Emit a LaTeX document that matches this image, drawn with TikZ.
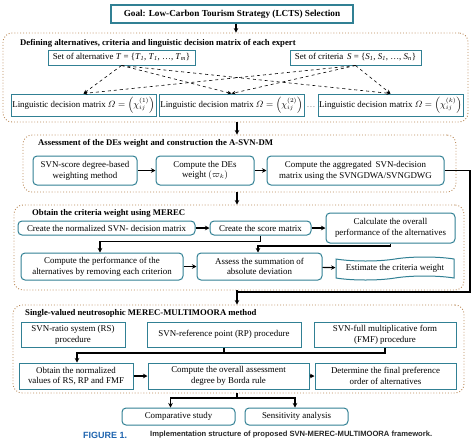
\documentclass[tikz,border=0pt]{standalone}
\usepackage{fontspec,amsmath}
\setmainfont{Liberation Serif}
\newfontfamily\capfont{Liberation Sans}
\usetikzlibrary{arrows.meta,shapes.symbols}
\definecolor{boxteal}{RGB}{49,128,148}
\definecolor{groupbrown}{RGB}{185,135,85}
\definecolor{capblue}{RGB}{30,100,175}
\newcommand{\fs}{\fontsize{8.9}{10.8}\selectfont}
\newcommand{\fst}{\fontsize{8.7}{10}\selectfont}
\newcommand{\elem}[2]{\textit{#1}\textsubscript{\textit{#2}}}
\hyphenpenalty=10000
\tikzset{
    box/.style={draw=boxteal, line width=1pt, align=center, inner sep=1pt, font=\fs},
    rbox/.style={box, rounded corners=4pt},
    group/.style={draw=groupbrown, dotted, line width=0.9pt, rounded corners=9pt},
    grouptitle/.style={font=\bfseries\fst, anchor=west, inner sep=0pt},
    conn/.style={line width=1.1pt, -{Stealth[length=4.5pt,width=4.5pt]}},
    wire/.style={line width=1.1pt},
    dasharrow/.style={dashed, line width=0.6pt, -{Stealth[length=4pt,width=3.5pt]}}
}
\begin{document}
\begin{tikzpicture}[x=1pt,y=-1pt]
                \useasboundingbox (0,0) rectangle (474,440);
                \node[box, line width=1.3pt, minimum width=242pt, minimum height=18pt, font=\bfseries\fontsize{9.2}{10}\selectfont] (goal) at (232,14) {Goal: Low-Carbon Tourism Strategy (LCTS) Selection};
                \node[group, minimum width=465pt, minimum height=89pt] (g1) at (235.5,77.5) {};
                \node[group, minimum width=433pt, minimum height=57pt] (g2) at (239.5,163.5) {};
                \node[group, minimum width=450pt, minimum height=85pt] (g3) at (239,247.5) {};
                \node[group, minimum width=451pt, minimum height=88pt] (g4) at (238.5,349) {};
                \node[grouptitle] (t1) at (20,43) {Defining alternatives, criteria and linguistic decision matrix of each expert};
                \node[grouptitle] (t2) at (38,143) {Assessment of the DEs weight and construction the A-SVN-DM};
                \node[grouptitle] (t3) at (32,213) {Obtain the criteria weight using MEREC};
                \node[grouptitle] (t4) at (25,313) {Single-valued neutrosophic MEREC-MULTIMOORA method};
                % alternatives, criteria and the experts' matrices
                \node[box, minimum width=147pt, minimum height=15pt] (alt) at (121.5,57.5) {Set of alternative \textit{T} = \{\elem{T}{1}, \elem{T}{1}, \dots, \elem{T}{m}\}};
                \node[box, minimum width=131pt, minimum height=15pt] (crit) at (355.5,57.5) {Set of criteria\, \textit{S} = \{\elem{S}{1}, \elem{S}{1}, \dots, \elem{S}{n}\}};
                \node[box, minimum width=145pt, minimum height=22pt] (lin1) at (83.5,105) {Linguistic decision matrix $\varOmega=\left(\chi_{ij}^{(1)}\right)$};
                \node[box, minimum width=145pt, minimum height=22pt] (lin2) at (231.5,105) {Linguistic decision matrix $\varOmega=\left(\chi_{ij}^{(2)}\right)$};
                \node[box, minimum width=145pt, minimum height=22pt] (lin3) at (390.5,105) {Linguistic decision matrix $\varOmega=\left(\chi_{ij}^{(k)}\right)$};
                \node[font=\fs, text=gray, inner sep=0pt] (dots) at (311,107) {\dots};
                \foreach \s in {alt,crit}
                    \foreach \t in {lin1,lin2,lin3}
                        \draw[dasharrow] (\s.south) -- (\t.north);
                % weights of the experts
                \node[rbox, minimum width=104pt, minimum height=29pt] (sco) at (85,170.5) {SVN-score degree-based\\weighting method};
                \node[rbox, minimum width=98pt, minimum height=29pt] (dew) at (205,170.5) {Compute the DEs\\weight $(\varpi_k)$};
                \node[rbox, minimum width=177pt, minimum height=29pt] (agg) at (355.5,170.5) {Compute the aggregated\, SVN-decision\\matrix using the SVNGDWA/SVNGDWG};
                \draw[conn] (sco) -- (dew);
                \draw[conn] (dew) -- (agg);
                % MEREC
                \node[rbox, minimum width=177pt, minimum height=14pt] (norm) at (106.5,228) {Create the normalized SVN- decision matrix};
                \node[rbox, minimum width=101pt, minimum height=14pt] (score) at (260.5,228) {Create the score matrix};
                \node[rbox, minimum width=129pt, minimum height=30pt] (overall) at (390.5,228) {Calculate the overall\\performance of the alternatives};
                \node[rbox, minimum width=162pt, minimum height=27pt] (remove) at (102,266.5) {Compute the performance of the\\alternatives by removing each criterion};
                \node[rbox, minimum width=125pt, minimum height=27pt] (absdev) at (259.5,266.5) {Assess the summation of\\absolute deviation};
                \node[box, tape, tape bend height=4pt, minimum width=118pt, minimum height=23pt] (crw) at (395,268.5) {Estimate the criteria weight};
                \draw[conn] (norm) -- (score);
                \draw[conn] (score) -- (overall);
                \draw[conn] (score.south) -- ++(0,6) -| ([xshift=-2pt]remove.north);
                \draw[conn] (overall.south) -- ++(0,2.5) -| ([xshift=-1.5pt]absdev.north);
                \draw[conn] (remove) -- (absdev);
                \draw[conn] (absdev) -- (crw);
                % MULTIMOORA
                \node[box, minimum width=104pt, minimum height=25pt] (rs) at (73,334.5) {SVN-ratio system (RS)\\procedure};
                \node[box, minimum width=154pt, minimum height=25pt] (rp) at (224,334.5) {SVN-reference point (RP) procedure};
                \node[box, minimum width=142pt, minimum height=25pt] (fmf) at (385,334.5) {SVN-full multiplicative form\\(FMF) procedure};
                \node[box, minimum width=114pt, minimum height=26pt] (normv) at (76,376) {Obtain the normalized\\values of RS, RP and FMF};
                \node[box, minimum width=161pt, minimum height=26pt] (borda) at (228.5,376) {Compute the overall assessment\\degree by Borda rule};
                \node[box, minimum width=141pt, minimum height=26pt] (final) at (385.5,376) {Determine the final preference\\order of alternatives};
                \coordinate (join) at (77,353);
                \draw[conn] (fmf.south) |- (join) -- (join |- normv.north);
                \draw[wire] (rp.south) -- (rp.south |- join);
                \draw[conn] (normv) -- (borda);
                \draw[conn] (borda) -- (final);
                % links between the stages
                \draw[conn] (goal.south -| 236,0) -- (g1.north -| 236,0);
                \draw[conn] (g1.south -| 237,0) -- (g2.north -| 237,0);
                \draw[conn] (g2.south -| 237,0) -- (g3.north -| 237,0);
                \draw[conn] (g3.south -| 237,0) -- (g4.north -| 237,0);
                \coordinate (turn) at (470,292);
                \draw[wire] (agg.east) -| (turn) -- (turn -| 237,0);
                % analyses
                \node[rbox, minimum width=113pt, minimum height=17pt] (comp) at (178.5,416.5) {Comparative study};
                \node[rbox, minimum width=103pt, minimum height=17pt] (sens) at (296.5,416.5) {Sensitivity analysis};
                \coordinate (split) at (237,398);
                \draw[wire] (g4.south -| split) -- (split);
                \draw[conn] (split) -| ([xshift=-8pt]comp.north);
                \draw[conn] (split) -| ([xshift=-1.5pt]sens.north);
                \node[anchor=west, inner sep=0pt, font=\capfont\bfseries\fontsize{9}{10}\selectfont, text=capblue] (fig) at (83,435) {FIGURE 1.};
                \node[anchor=west, inner sep=0pt, font=\capfont\bfseries\fontsize{7.6}{8}\selectfont, text=black!85] (cap) at (150,435) {Implementation structure of proposed SVN-MEREC-MULTIMOORA framework.};
\end{tikzpicture}
\end{document}
